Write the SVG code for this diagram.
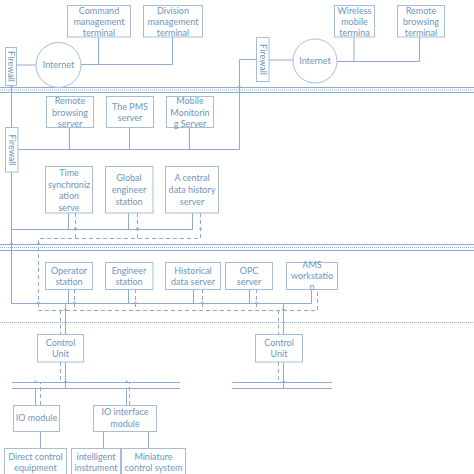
<svg xmlns="http://www.w3.org/2000/svg" width="474" height="474" viewBox="0 0 474 474">
<style>
.b{fill:#fff;stroke:#a7bdd6;stroke-width:1}
.t{font-family:Lato,"Open Sans","Liberation Sans",sans-serif;font-size:9px;fill:#6f95c0;text-anchor:middle}
.l{fill:none;stroke:#8fabcb;stroke-width:1}
.d{fill:none;stroke:#8fabcb;stroke-width:1;stroke-dasharray:4 3}
.dot{fill:none;stroke:#9ab3cf;stroke-width:1;stroke-dasharray:1 1}
</style>
<rect width="474" height="474" fill="#fff"/>
<g id="connectors">
<line class="l" x1="0" y1="87.5" x2="474" y2="87.5"/>
<line class="dot" x1="0" y1="90" x2="474" y2="90"/>
<line class="l" x1="0" y1="92.5" x2="474" y2="92.5"/>
<line class="l" x1="0" y1="244.5" x2="474" y2="244.5"/>
<line class="dot" x1="0" y1="247.5" x2="474" y2="247.5"/>
<line class="l" x1="0" y1="250.5" x2="474" y2="250.5"/>
<line class="dot" x1="0" y1="322.5" x2="474" y2="322.5"/>
<path class="l" d="M17 65H36M81 64.5H172.5M98.5 37V64.5M172.5 37V64.5"/>
<path class="l" d="M269 60H293M337 61.5H419.5M354 37V61.5M419.5 37V61.5"/>
<path class="l" d="M256 59.5H239.5V149.5H18"/>
<path class="l" d="M11.5 85V127M11.5 172V303.5H311.5"/>
<path class="l" d="M69.5 127V149.5M129.5 127V149.5M189.5 127V149.5"/>
<path class="l" d="M11.5 229.5H192.5M68.5 213V229.5M128.5 213V229.5M192.5 213V229.5"/>
<path class="d" d="M75.5 213V238.5M137.5 213V238.5M200.5 213V238.5H38.5V310.5H317.5V289"/>
<path class="l" d="M68.5 289V303.5M128.5 289V303.5M193.5 289V303.5M249.5 289V303.5M311.5 289V303.5"/>
<path class="d" d="M74.5 289V310.5M135.5 289V310.5M202.5 289V310.5M256.5 289V310.5"/>
<path class="l" d="M65.5 303.5V334M283.5 303.5V334"/>
<path class="d" d="M60.5 310.5V334M278.5 310.5V334"/>
<path class="l" d="M65.5 362V388.5M283.5 362V388.5"/>
<path class="d" d="M60.5 362V382.5M278.5 362V382.5"/>
<path class="l" d="M12 382.5H180M12 388.5H180M232 382.5H332M232 388.5H332"/>
<path class="l" d="M35.5 405V388.5M126.5 405V388.5"/>
<path class="d" d="M40.5 405V382.5M129.5 405V382.5"/>
<path class="l" d="M40.5 431V448M103.5 431V448M148.5 431V448"/>
<path class="l" d="M74 229.5l1.5 -2l1.5 2M136 229.5l1.5 -2l1.5 2M199 229.5l1.5 -2l1.5 2M37 303.5l1.5 -2l1.5 2M73 303.5l1.5 -2l1.5 2M134 303.5l1.5 -2l1.5 2M201 303.5l1.5 -2l1.5 2M255 303.5l1.5 -2l1.5 2M64 310.5l1.5 -2l1.5 2M282 310.5l1.5 -2l1.5 2M64 382.5l1.5 -2l1.5 2M282 382.5l1.5 -2l1.5 2M34 382.5l1.5 -2l1.5 2M125 382.5l1.5 -2l1.5 2M10 244.5l1.5 -2l1.5 2M37 244.5l1.5 -2l1.5 2M10 87.5l1.5 -2l1.5 2M238 87.5l1.5 -2l1.5 2"/>
</g>
<g id="fw1"><rect class="b" x="5.5" y="47.5" width="11" height="38"/><text class="t" transform="translate(8 66.5) rotate(90)">Firewall</text></g>
<g id="inet1"><circle class="b" cx="58.5" cy="65" r="22.5"/><text class="t" x="58.5" y="68">Internet</text></g>
<g id="cmd"><rect class="b" x="67.5" y="5.5" width="63" height="31.5"/><text class="t" x="99" y="14">Command</text><text class="t" x="99" y="25">management</text><text class="t" x="99" y="36">terminal</text></g>
<g id="div"><rect class="b" x="143.5" y="5.5" width="59" height="31.5"/><text class="t" x="173" y="14">Division</text><text class="t" x="173" y="25">management</text><text class="t" x="173" y="36">terminal</text></g>
<g id="fw2"><rect class="b" x="256.5" y="37.5" width="12.5" height="44"/><text class="t" transform="translate(259.5 59.5) rotate(90)">Firewall</text></g>
<g id="inet2"><circle class="b" cx="315" cy="61" r="22"/><text class="t" x="315" y="64">Internet</text></g>
<g id="wmt"><rect class="b" x="334.5" y="5.5" width="40" height="31.5"/><text class="t" x="354.5" y="14">Wireless</text><text class="t" x="354.5" y="25">mobile</text><text class="t" x="354.5" y="36">termina</text></g>
<g id="rbt"><rect class="b" x="397.5" y="5.5" width="47" height="31.5"/><text class="t" x="421" y="14">Remote</text><text class="t" x="421" y="25">browsing</text><text class="t" x="421" y="36">terminal</text></g>
<g id="fw3"><rect class="b" x="5.5" y="127.5" width="12.5" height="44.5"/><text class="t" transform="translate(8.5 150) rotate(90)">Firewall</text></g>
<g id="rbs"><rect class="b" x="46.5" y="96.5" width="47" height="31"/><text class="t" x="70" y="104">Remote</text><text class="t" x="70" y="116">browsing</text><text class="t" x="70" y="127">server</text></g>
<g id="pms"><rect class="b" x="106.5" y="96.5" width="47" height="31"/><text class="t" x="130" y="110">The PMS</text><text class="t" x="130" y="121">server</text></g>
<g id="mms"><rect class="b" x="166.5" y="96.5" width="47" height="31"/><text class="t" x="190" y="104">Mobile</text><text class="t" x="190" y="116">Monitorin</text><text class="t" x="190" y="127">g Server</text></g>
<g id="tss"><rect class="b" x="45.5" y="166.5" width="47" height="46.5"/><text class="t" x="69" y="176">Time</text><text class="t" x="69" y="188">synchroniz</text><text class="t" x="69" y="199">ation</text><text class="t" x="69" y="211">serve</text></g>
<g id="ges"><rect class="b" x="105.5" y="166.5" width="47.5" height="46.5"/><text class="t" x="129" y="181">Global</text><text class="t" x="129" y="193">engineer</text><text class="t" x="129" y="205">station</text></g>
<g id="cdh"><rect class="b" x="165.5" y="166.5" width="53" height="46.5"/><text class="t" x="192" y="181">A central</text><text class="t" x="192" y="193">data history</text><text class="t" x="192" y="205">server</text></g>
<g id="ops"><rect class="b" x="45.5" y="262.5" width="47" height="27"/><text class="t" x="69" y="274">Operator</text><text class="t" x="69" y="285">station</text></g>
<g id="ens"><rect class="b" x="105.5" y="262.5" width="47.5" height="27"/><text class="t" x="129" y="274">Engineer</text><text class="t" x="129" y="285">station</text></g>
<g id="hds"><rect class="b" x="165.5" y="262.5" width="55" height="27"/><text class="t" x="193" y="274">Historical</text><text class="t" x="193" y="285">data server</text></g>
<g id="opc"><rect class="b" x="225.5" y="262.5" width="47" height="27"/><text class="t" x="249" y="274">OPC</text><text class="t" x="249" y="285">server</text></g>
<g id="ams"><rect class="b" x="286.5" y="262.5" width="51" height="27"/><text class="t" x="312" y="268">AMS</text><text class="t" x="312" y="279">workstatio</text><text class="t" x="312" y="290">n</text></g>
<g id="cu1"><rect class="b" x="37.5" y="334.5" width="46" height="27.5"/><text class="t" x="60.5" y="346">Control</text><text class="t" x="60.5" y="357">Unit</text></g>
<g id="cu2"><rect class="b" x="255.5" y="334.5" width="47" height="27.5"/><text class="t" x="279" y="346">Control</text><text class="t" x="279" y="357">Unit</text></g>
<g id="iom"><rect class="b" x="13.5" y="405.5" width="46" height="26"/><text class="t" x="36.5" y="421">IO module</text></g>
<g id="iim"><rect class="b" x="93.5" y="405.5" width="63" height="26"/><text class="t" x="125" y="415">IO interface</text><text class="t" x="125" y="427">module</text></g>
<g id="dce"><rect class="b" x="4.5" y="448.5" width="62" height="28"/><text class="t" x="35.5" y="460">Direct control</text><text class="t" x="35.5" y="471">equipment</text></g>
<g id="ii"><rect class="b" x="71.5" y="448.5" width="49" height="28"/><text class="t" x="96" y="460">intelligent</text><text class="t" x="96" y="471">instrument</text></g>
<g id="mcs"><rect class="b" x="121.5" y="448.5" width="64" height="28"/><text class="t" x="153.5" y="460">Miniature</text><text class="t" x="153.5" y="471">control system</text></g>
</svg>
